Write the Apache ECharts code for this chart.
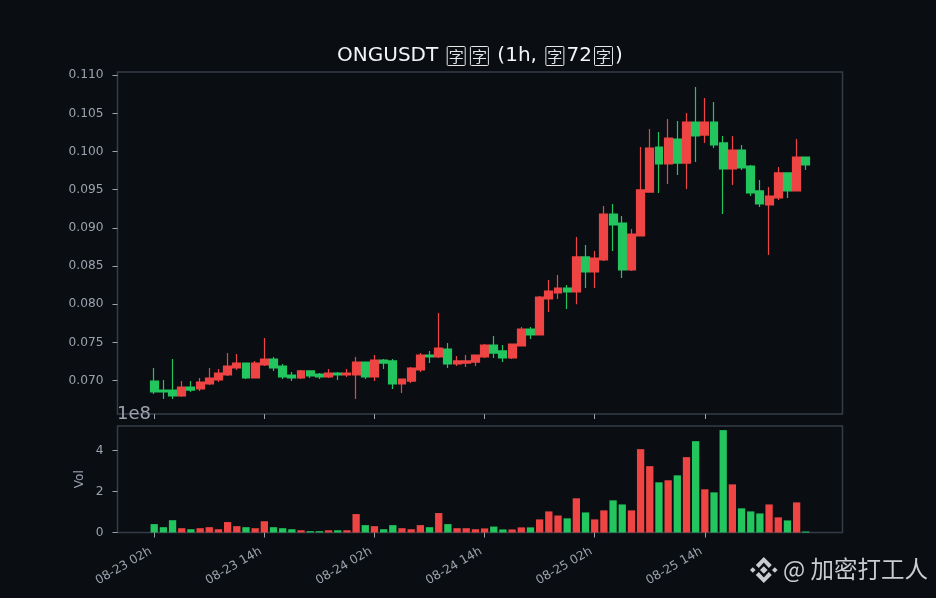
<!DOCTYPE html>
<html><head><meta charset="utf-8">
<script src="https://cdn.jsdelivr.net/npm/echarts@6/dist/echarts.min.js"></script>
<style>html,body{margin:0;padding:0;background:#0a0e12}#c{width:936px;height:598px}</style>
</head><body><div id="c"></div>
<script>
const tickLabels = ['08-23 02h','08-23 14h','08-24 02h','08-24 14h','08-25 02h','08-25 14h'];
const priceTicks = [0.07,0.075,0.08,0.085,0.09,0.095,0.1,0.105,0.11];
const volTicks = [0,2,4];
const opens = [.06993,.06875,.06875,.06797,.06915,.06889,.06954,.07007,.07072,.07164,.07229,.07033,.07203,.07282,.0719,.07072,.07033,.07125,.07085,.07046,.07098,.07072,.07072,.07242,.07046,
.07269,.07256,.06954,.06993,.07138,.07334,.07308,.07413,.07216,.07229,.07242,.07308,.07465,.07387,.07295,.07452,.07675,.07596,.08068,.08147,.08212,.0816,.08619,.08422,.08579,
.09182,.09064,.08448,.08894,.0947,.1006,.09837,.10165,.0985,.10388,.10217,.10388,.10113,.09772,.10021,.09811,.09484,.093,.09392,.0972,.09484,.09929];
const closes = [.06849,.06849,.06797,.06915,.06875,.0698,.07033,.07098,.0719,.07229,.07033,.07229,.07282,.07164,.07046,.07033,.07125,.07059,.07046,.07098,.07072,.07098,.07242,.07046,.07269,
.07229,.06954,.0702,.07164,.07334,.07308,.07426,.07216,.07256,.07256,.07334,.07465,.0736,.07295,.07478,.07675,.07596,.08094,.08173,.08212,.0816,.08619,.08422,.08605,.09182,
.09038,.08448,.0892,.09497,.10047,.09837,.10178,.0985,.10388,.10204,.10388,.10086,.09772,.10021,.09785,.09457,.09313,.09418,.0972,.09484,.09929,.09824];
const lows = [.06823,.06758,.06758,.06784,.06849,.06862,.06941,.0698,.07059,.07138,.0702,.07033,.0719,.07125,.0702,.06993,.0702,.07033,.0702,.07033,.07007,.07046,.06758,.0702,.06993,
.07151,.06889,.06836,.06967,.07111,.07229,.07295,.07164,.0719,.07177,.0719,.07295,.07295,.07242,.07282,.07452,.07544,.07596,.07898,.08068,.07937,.07999,.08212,.08212,.08566,
.08697,.08343,.08435,.08894,.0947,.09457,.09575,.09693,.0951,.09864,.10113,.10047,.09182,.09562,.09759,.09418,.09274,.08645,.09366,.09392,.09484,.09759];
const highs = [.07164,.07007,.07282,.06993,.06993,.07033,.07164,.07151,.0736,.07347,.07229,.07256,.07557,.07308,.07216,.07111,.07138,.07125,.07098,.07151,.07111,.07151,.07308,.07242,.07334,
.07282,.07282,.0702,.07177,.0736,.07387,.07885,.07491,.07321,.07334,.07334,.07478,.07583,.07465,.07478,.07701,.07701,.08107,.08317,.08383,.08252,.08881,.08776,.08697,.09287,
.09313,.09156,.08986,.1006,.10296,.10257,.10427,.10401,.10506,.10847,.10702,.1065,.10204,.10204,.10086,.09824,.09628,.09536,.09798,.0972,.10165,.09929];
const volumes = [.41,.26,.6,.21,.16,.21,.26,.16,.51,.31,.26,.21,.55,.26,.21,.16,.11,.065,.065,.11,.11,.11,.9,.36,.31,.16,.36,.21,.16,.36,.26,.95,.41,.21,.21,.16,
.2,.29,.15,.15,.25,.25,.64,1.03,.83,.69,1.67,.98,.64,1.08,1.57,1.37,1.08,4.07,3.24,2.45,2.55,2.79,3.68,4.46,2.11,1.96,5.0,2.35,1.18,1.03,.93,1.37,.74,.59,1.47,.05];

const PAD = 4, STEP = 12, UP = '#ef4444', DOWN = '#22c55e', GRAY = '#9ca3af', FRAME = '#353c48', MARK = '#c9ccd0';
const categories = Array.from({length: opens.length + 2 * PAD}, (_, i) => {
  const k = i - PAD;
  return k >= 0 && k % STEP === 0 && k / STEP < tickLabels.length ? tickLabels[k / STEP] : '';
});
const isTick = (idx, val) => val !== '';
const candles = opens.map((o, i) => [i + PAD, o, closes[i], lows[i], highs[i]]);
const bars = volumes.map((v, i) => ({value: [i + PAD, v], itemStyle: {color: closes[i] > opens[i] ? UP : DOWN}}));

const tofu = {fontFamily: '"Noto Sans CJK SC"', fontSize: 15, color: '#e4e5e8', lineHeight: 19, width: 18, height: 19, align: 'center', borderColor: '#e8e8e8', borderWidth: 1, borderRadius: 1};
const chart = echarts.init(document.getElementById('c'), null, {renderer: 'canvas'});
chart.setOption({
  animation: false,
  backgroundColor: '#0a0e12',
  title: {
    text: 'ONGUSDT {g| }{b|字}{g| }{g| }{b|字}{g| } (1h, {g| }{b|字}{g| }72{g| }{b|字}{g| })',
    left: 475, top: 41, textAlign: 'center',
    textStyle: {color: '#f3f4f6', fontFamily: '"DejaVu Sans"', fontSize: 20, fontWeight: 'normal', rich: {b: tofu, g: {fontSize: 2, width: 2.6}}}
  },
  grid: [
    {left: 117.5, top: 72, width: 725, height: 342, show: true, borderColor: FRAME, borderWidth: 1.5, backgroundColor: 'transparent'},
    {left: 117.5, top: 426, width: 725, height: 106.5, show: true, borderColor: FRAME, borderWidth: 1.5, backgroundColor: 'transparent'}
  ],
  xAxis: [0, 1].map(g => ({
    type: 'category', gridIndex: g, data: categories, boundaryGap: false,
    axisLine: {show: false},
    axisTick: {show: true, interval: isTick, length: 5, lineStyle: {color: GRAY, width: 1}},
    splitLine: {show: false},
    axisLabel: g === 0 ? {show: false} : {show: true, interval: isTick, rotate: 30, margin: 16, padding: [0, 4, 0, 0], color: GRAY, fontFamily: '"DejaVu Sans"', fontSize: 12.2, hideOverlap: false}
  })),
  yAxis: [
    {type: 'value', gridIndex: 0, min: 0.06561, max: 0.11043, scale: true,
     axisLine: {show: false}, splitLine: {show: false},
     axisTick: {show: true, length: 5, customValues: priceTicks, lineStyle: {color: GRAY, width: 1}},
     axisLabel: {customValues: priceTicks, margin: 14, color: GRAY, fontFamily: '"DejaVu Sans"', fontSize: 12.2, formatter: v => v.toFixed(3)}},
    {type: 'value', gridIndex: 1, min: 0, max: 5.2,
     name: 'Vol', nameLocation: 'middle', nameRotate: 90, nameGap: 32, nameMoveOverlap: false,
     nameTextStyle: {color: GRAY, fontFamily: '"DejaVu Sans"', fontSize: 12.2},
     axisLine: {show: false}, splitLine: {show: false},
     axisTick: {show: true, length: 5, customValues: volTicks, lineStyle: {color: GRAY, width: 1}},
     axisLabel: {customValues: volTicks, margin: 14, color: GRAY, fontFamily: '"DejaVu Sans"', fontSize: 12.2}}
  ],
  series: [
    {type: 'candlestick', xAxisIndex: 0, yAxisIndex: 0, barWidth: 8.4, data: candles,
     encode: {x: 0, y: [1, 2, 3, 4]},
     itemStyle: {color: UP, color0: DOWN, borderColor: UP, borderColor0: DOWN, borderWidth: 1.2}},
    {type: 'bar', xAxisIndex: 1, yAxisIndex: 1, barWidth: 7.3, data: bars}
  ],
  graphic: [
    {type: 'text', left: 117, top: 405, z: 50, style: {text: '1e8', fill: GRAY, font: '18px "DejaVu Sans"'}},
    {type: 'group', left: 750, top: 557, z: 60, children: [
      {type: 'polygon', shape: {points: [[14,1],[22,9],[19,12],[14,6.5],[9,12],[6,9]]}, style: {fill: MARK}},
      {type: 'polygon', shape: {points: [[14,27],[22,19],[19,16],[14,21.5],[9,16],[6,19]]}, style: {fill: MARK}},
      {type: 'polygon', shape: {points: [[0.2,14],[3,11.2],[5.8,14],[3,16.8]]}, style: {fill: MARK}},
      {type: 'polygon', shape: {points: [[22.2,14],[25,11.2],[27.8,14],[25,16.8]]}, style: {fill: MARK}},
      {type: 'polygon', shape: {points: [[14,10.2],[17.8,14],[14,17.8],[10.2,14]]}, style: {fill: MARK}}
    ]},
    {type: 'text', left: 783, top: 557, z: 60, style: {text: '@ 加密打工人', fill: MARK, font: '23.5px "Noto Sans CJK SC"'}}
  ]
});
</script></body></html>
